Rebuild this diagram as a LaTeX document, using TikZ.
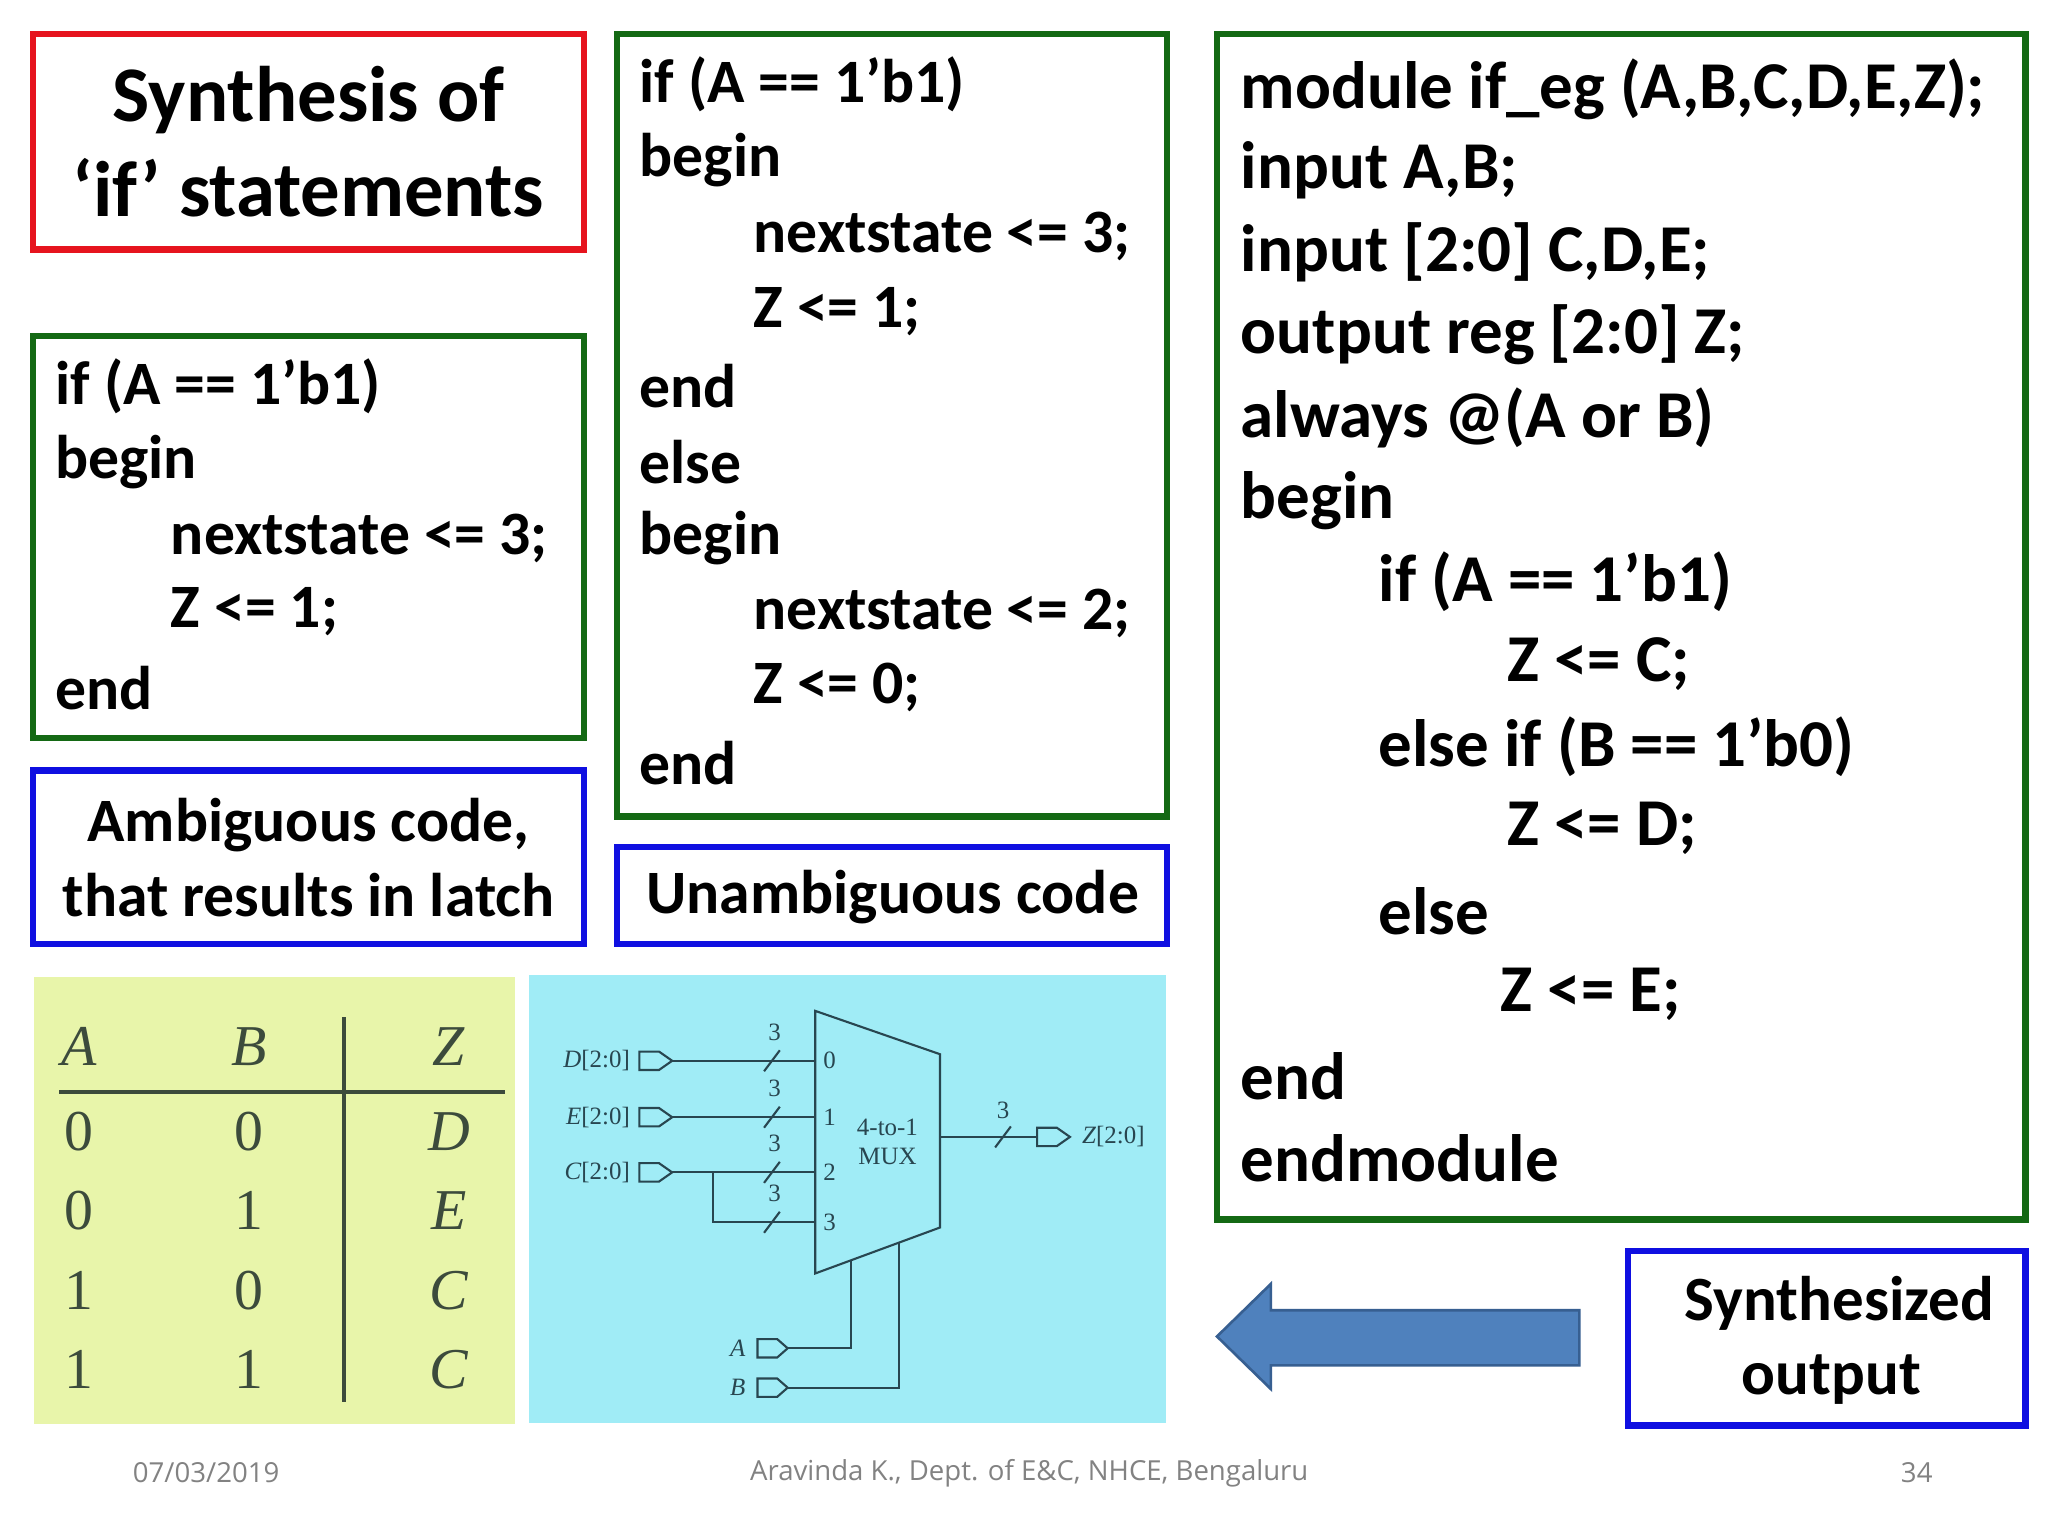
\documentclass[tikz,border=0pt]{standalone}
\usepackage{fontspec}
\setmainfont{Carlito}
\newfontfamily\footfont{Open Sans}
\newfontfamily\serifm{Liberation Serif}
\definecolor{cred}{RGB}{230,20,30}
\definecolor{cgrn}{RGB}{20,105,20}
\definecolor{cblu}{RGB}{15,15,225}
\definecolor{ctab}{RGB}{60,75,60}
\definecolor{cmx}{RGB}{40,70,80}
\definecolor{cfoot}{RGB}{130,130,130}
\definecolor{carrow}{RGB}{79,129,189}
\definecolor{carrowd}{RGB}{55,95,145}
\definecolor{ctabbg}{RGB}{232,245,170}
\definecolor{cmxbg}{RGB}{160,236,246}
\begin{document}
\begin{tikzpicture}[x=1pt,y=1pt,
  redbox/.style={draw=cred,line width=5},
  grnbox/.style={draw=cgrn,line width=5},
  blubox/.style={draw=cblu,line width=5},
  code/.style={font=\fontsize{47}{52}\selectfont\bfseries,anchor=west,inner sep=0},
  codeR/.style={font=\fontsize{51}{56}\selectfont\bfseries,anchor=west,inner sep=0},
  tab/.style={font=\fontsize{44}{50}\selectfont\serifm,text=ctab,inner sep=0},
  tabi/.style={tab,font=\fontsize{44}{50}\selectfont\serifm\itshape},
  mx/.style={draw=cmx,line width=1.6},
  mt/.style={font=\fontsize{19}{22}\selectfont\serifm,text=cmx,inner sep=0},
  foot/.style={font=\fontsize{21}{24}\selectfont\footfont,text=cfoot,inner sep=0}]
\useasboundingbox[fill=white] (0,0) rectangle (1560,-1170);
% title
\draw[redbox] (25,-26) rectangle (445,-190);
\node[font=\fontsize{60}{72}\selectfont\bfseries,align=center] (title) at (235,-108) {Synthesis of\\‘if’ statements};
% box 1
\draw[grnbox] (25,-256) rectangle (445,-562);
\node[code] (a1) at (42,-294) {if (A == 1’b1)};
\node[code] (a2) at (42,-352) {begin};
\node[code] (a3) at (130,-410) {nextstate <= 3;};
\node[code] (a4) at (130,-466) {Z <= 1;};
\node[code] (a5) at (42,-524) {end};
\draw[blubox] (25,-587) rectangle (445,-719);
\node[font=\fontsize{47}{57}\selectfont\bfseries,align=center] (amb) at (235,-653) {Ambiguous code,\\that results in latch};
% box 2
\draw[grnbox] (470,-26) rectangle (889,-622);
\node[code] (b1) at (487,-64) {if (A == 1’b1)};
\node[code] (b2) at (487,-122) {begin};
\node[code] (b3) at (574,-180) {nextstate <= 3;};
\node[code] (b4) at (574,-237) {Z <= 1;};
\node[code] (b5) at (487,-294) {end};
\node[code] (b6) at (487,-352) {else};
\node[code] (b7) at (487,-410) {begin};
\node[code] (b8) at (574,-467) {nextstate <= 2;};
\node[code] (b9) at (574,-524) {Z <= 0;};
\node[code] (b10) at (487,-581) {end};
\draw[blubox] (470,-645) rectangle (889,-719);
\node[font=\fontsize{47}{50}\selectfont\bfseries] (unamb) at (680,-683) {Unambiguous code};
% box 3
\draw[grnbox] (927,-26) rectangle (1543,-929);
\node[codeR] (c1) at (945,-68) {module if\_eg (A,B,C,D,E,Z);};
\node[codeR] (c2) at (945,-130) {input A,B;};
\node[codeR] (c3) at (945,-192) {input [2:0] C,D,E;};
\node[codeR] (c4) at (945,-255) {output reg [2:0] Z;};
\node[codeR] (c5) at (945,-318) {always @(A or B)};
\node[codeR] (c6) at (945,-381) {begin};
\node[codeR] (c7) at (1050,-443) {if (A == 1’b1)};
\node[codeR] (c8) at (1148,-506) {Z <= C;};
\node[codeR] (c9) at (1050,-569) {else if (B == 1’b0)};
\node[codeR] (c10) at (1148,-631) {Z <= D;};
\node[codeR] (c11) at (1050,-694) {else};
\node[codeR] (c12) at (1143,-757) {Z <= E;};
\node[codeR] (c13) at (945,-820) {end};
\node[codeR] (c14) at (945,-882) {endmodule};
% arrow
\draw[fill=carrow,draw=carrowd,line width=2]
  (1203,-998) -- (968,-998) -- (968,-978) -- (927,-1018) -- (968,-1058) -- (968,-1040) -- (1203,-1040) -- cycle;
\draw[blubox] (1240,-953) rectangle (1543,-1086);
\node[font=\fontsize{48}{57}\selectfont\bfseries,align=center] (synth) at (1395,-1021) {\hspace*{12pt}Synthesized\\output};
% truth table
\fill[ctabbg] (26,-744) rectangle (392,-1085);
\node[tabi] (hA) at (60,-797) {A};
\node[tabi] (hB) at (190,-797) {B};
\node[tabi] (hZ) at (342,-797) {Z};
\draw[line width=3,ctab] (45,-832) -- (385,-832);
\draw[line width=3,ctab] (262,-775) -- (262,-1068);
\foreach \a/\b/\z/\y [count=\i] in {0/0/D/862,0/1/E/922,1/0/C/983,1/1/C/1043}{
  \node[tab] (ra\i) at (60,-\y) {\a};
  \node[tab] (rb\i) at (190,-\y) {\b};
  \node[tabi] (rz\i) at (342,-\y) {\z};
}
% mux
\fill[cmxbg] (403,-743) rectangle (888,-1084);
\draw[mx] (621,-770) -- (716,-803) -- (716,-935) -- (621,-970) -- cycle;
\node[mt,align=center] (mxl) at (676,-870) {4-to-1\\MUX};
\foreach \n/\y/\lab [count=\i] in {0/808/D,1/851/E,2/893/C}{
  \draw[mx] (487,-\y+7) -- (502,-\y+7) -- (512,-\y) -- (502,-\y-7) -- (487,-\y-7) -- cycle;
  \node[mt,anchor=east] (in\i) at (480,-\y) {\textit{\lab}[2:0]};
  \draw[mx] (512,-\y) -- (621,-\y);
}
\draw[mx] (543,-893) -- (543,-931) -- (621,-931);
\foreach \y/\n in {808/0,851/1,893/2,931/3}{
  \draw[mx] (582,-\y-8) -- (594,-\y+8);
  \node[mt] at (590,-\y+22) {3};
  \node[mt] at (632,-\y) {\n};
}
\draw[mx] (716,-866) -- (790,-866);
\draw[mx] (758,-874) -- (770,-858);
\node[mt] at (764,-846) {3};
\draw[mx] (790,-859) -- (805,-859) -- (815,-866) -- (805,-873) -- (790,-873) -- cycle;
\node[mt,anchor=west] (zout) at (824,-866) {\textit{Z}[2:0]};
\draw[mx] (577,-1020) -- (592,-1020) -- (600,-1027) -- (592,-1034) -- (577,-1034) -- cycle;
\draw[mx] (577,-1050) -- (592,-1050) -- (600,-1057) -- (592,-1064) -- (577,-1064) -- cycle;
\node[mt,anchor=east] (sa) at (568,-1027) {\textit{A}};
\node[mt,anchor=east] (sb) at (568,-1057) {\textit{B}};
\draw[mx] (600,-1027) -- (648,-1027) -- (648,-960);
\draw[mx] (600,-1057) -- (685,-1057) -- (685,-946);
% footer
\node[foot] (date) at (157,-1122) {07/03/2019};
\node[foot] (auth) at (784,-1122) {Aravinda K., Dept. of E\&C, NHCE, Bengaluru};
\node[foot] (pg) at (1460,-1122) {34};
\end{tikzpicture}
\end{document}
